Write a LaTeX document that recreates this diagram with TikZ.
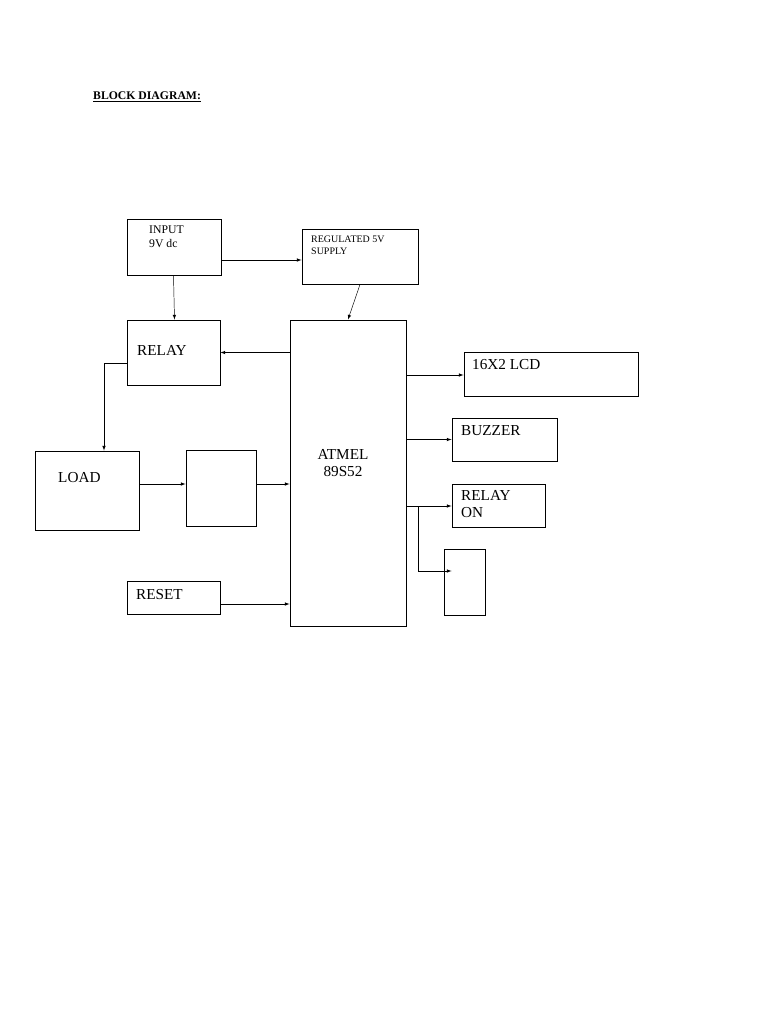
\documentclass[tikz,border=0pt]{standalone}
\usepackage{fontspec}
\setmainfont{Liberation Serif}
\usetikzlibrary{positioning}
\tikzset{
  blk/.style={rectangle,draw,thick,inner sep=0pt},
  txt/.style={anchor=north west,inner sep=0pt,align=left,font=\fontsize{13}{15}\selectfont},
  small/.style={anchor=north west,inner sep=0pt,align=left,font=\fontsize{10}{12}\selectfont},
  tiny/.style={anchor=north west,inner sep=0pt,align=left,font=\fontsize{8.5}{10}\selectfont},
  arr/.style={->,>=latex}
}
\begin{document}
\begin{tikzpicture}[x=0.03cm,y=-0.03cm]
\useasboundingbox (0,0) rectangle (768,1024);
\node [anchor=west,inner sep=0pt,font=\fontsize{10}{12}\selectfont\bfseries] (title) at (93,97) {\underline{BLOCK DIAGRAM:}};

% blocks
\node [blk,minimum width=94*0.03cm,minimum height=56*0.03cm] (input) at (174,247) {};
\node [blk,minimum width=116*0.03cm,minimum height=55*0.03cm] (reg) at (360,256.5) {};
\node [blk,minimum width=93*0.03cm,minimum height=65*0.03cm] (relay) at (173.5,352.5) {};
\node [blk,minimum width=116*0.03cm,minimum height=306*0.03cm] (atmel) at (348,473) {};
\node [blk,minimum width=174*0.03cm,minimum height=44*0.03cm] (lcd) at (551,374) {};
\node [blk,minimum width=105*0.03cm,minimum height=43*0.03cm] (buzzer) at (504.5,439.5) {};
\node [blk,minimum width=93*0.03cm,minimum height=43*0.03cm] (relayon) at (498.5,505.5) {};
\node [blk,minimum width=41*0.03cm,minimum height=66*0.03cm] (out) at (464.5,582) {};
\node [blk,minimum width=104*0.03cm,minimum height=79*0.03cm] (load) at (87,490.5) {};
\node [blk,minimum width=70*0.03cm,minimum height=76*0.03cm] (sense) at (221,488) {};
\node [blk,minimum width=93*0.03cm,minimum height=33*0.03cm] (reset) at (173.5,597.5) {};

% labels
\node [small] (tinput) at (149,226) {INPUT\\9V dc};
\node [tiny] (treg) at (311,236) {REGULATED 5V\\SUPPLY};
\node [txt] (trelay) at (137,345) {RELAY};
\node [txt,align=center,anchor=north] (tatmel) at (343,449) {ATMEL\\89S52};
\node [txt] (tlcd) at (472,359) {16X2 LCD};
\node [txt] (tbuzzer) at (461,425) {BUZZER};
\node [txt] (trelayon) at (461,490) {RELAY\\ON};
\node [txt] (tload) at (58,472) {LOAD};
\node [txt] (treset) at (136,589) {RESET};

% connectors
\coordinate (c1) at (104,363);
\coordinate (c2) at (418,506);
\coordinate (c3) at (418,571);
\draw [arr] (input.east |- 0,260) -- (reg.west |- 0,260);
\draw [arr] (input.south) -- (relay.north |- input.south) -- ([xshift=0.03cm]relay.north);
\draw [arr] (reg.south) -- (atmel.north);
\draw [arr] (atmel.west |- relay.east) -- (relay.east);
\draw [arr] (relay.west |- c1) -- (c1) -- (c1 |- load.north);
\draw [arr] (load.east |- 0,484) -- (sense.west |- 0,484);
\draw [arr] (sense.east |- 0,484) -- (atmel.west |- 0,484);
\draw [arr] (reset.east |- 0,604) -- (atmel.west |- 0,604);
\draw [arr] (atmel.east |- 0,375) -- (lcd.west |- 0,375);
\draw [arr] (atmel.east |- buzzer.west) -- (buzzer.west);
\draw [arr] (atmel.east |- c2) -- (relayon.west |- c2);
\draw [arr] (c2) -- (c3) -- (relayon.west |- c3);
\end{tikzpicture}
\end{document}
